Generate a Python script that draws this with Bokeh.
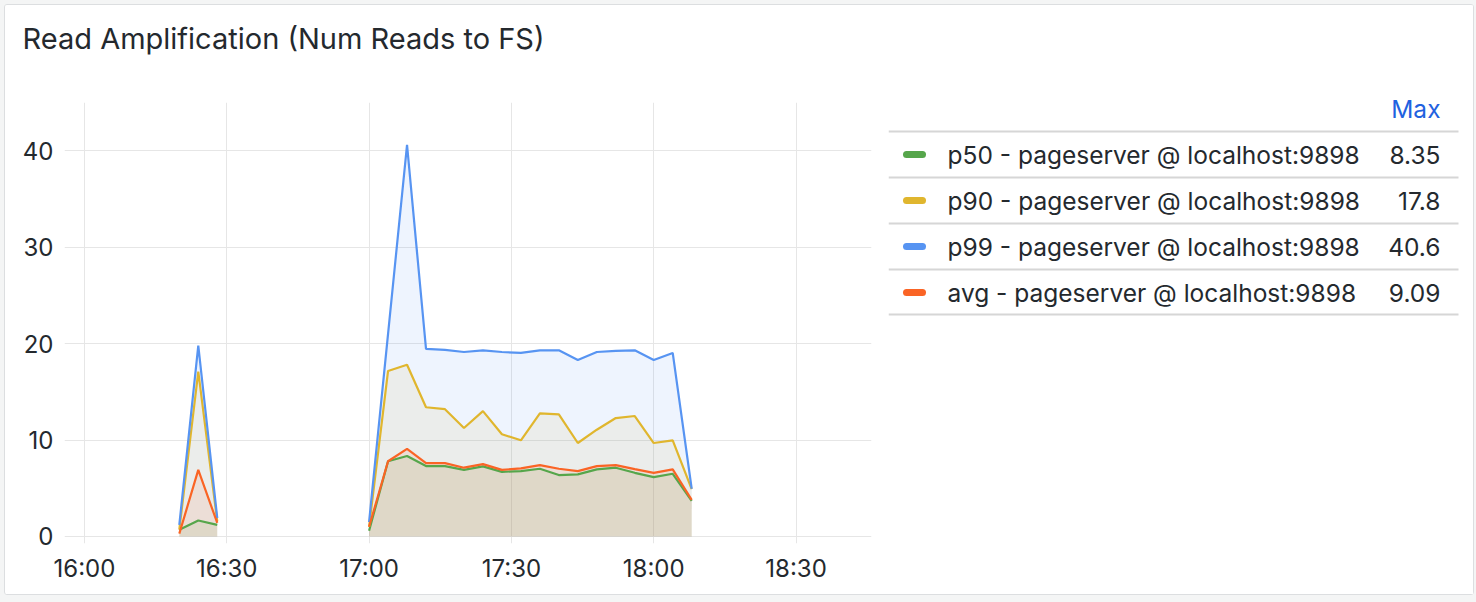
from datetime import datetime, timedelta

from bokeh.plotting import figure
from bokeh.models import Range1d, FixedTicker, DatetimeTickFormatter
from bokeh.layouts import column, row
from bokeh.embed import file_html
from bokeh.resources import INLINE
from bokeh.core.properties import value

try:
    from bokeh.models import GlobalInlineStyleSheet
except Exception:  # pragma: no cover
    GlobalInlineStyleSheet = None

# ---------------- data ----------------
title_text = "Read Amplification (Num Reads to FS)"
series_names = [
    "p50 - pageserver @ localhost:9898",
    "p90 - pageserver @ localhost:9898",
    "p99 - pageserver @ localhost:9898",
    "avg - pageserver @ localhost:9898",
]
series_colors = ["#56A64B", "#E0B62E", "#5794F2", "#FA6425"]
legend_header = "Max"

start_time = datetime(2023, 1, 1, 16, 20)
step_minutes = 4
N = None
p50 = [0.7, 1.65, 1.2, N, N, N, N, N, N, N,
       0.6, 7.8, 8.35, 7.3, 7.3, 6.9, 7.27, 6.7, 6.78, 7.02, 6.37, 6.44, 6.95, 7.13, 6.6, 6.16, 6.5, 3.7]
p90 = [0.7, 17.1, 1.55, N, N, N, N, N, N, N,
       1.0, 17.16, 17.8, 13.4, 13.2, 11.25, 13.0, 10.6, 9.97, 12.77, 12.66, 9.69, 11.07, 12.28, 12.49, 9.69, 9.97, 4.9]
p99 = [1.2, 19.8, 1.9, N, N, N, N, N, N, N,
       1.5, 21.0, 40.6, 19.45, 19.34, 19.13, 19.3, 19.13, 19.03, 19.3, 19.3, 18.3, 19.13, 19.24, 19.3, 18.3, 19.03, 4.95]
avg = [0.3, 6.9, 1.4, N, N, N, N, N, N, N,
       1.0, 7.8, 9.09, 7.6, 7.6, 7.13, 7.5, 6.9, 7.06, 7.4, 7.02, 6.78, 7.3, 7.4, 6.99, 6.6, 6.95, 3.8]
series_values = [p50, p90, p99, avg]

x_tick_labels = ["16:00", "16:30", "17:00", "17:30", "18:00", "18:30"]
y_ticks = [0, 10, 20, 30, 40]

# ---------------- style / layout ----------------
FONT = value("Inter")
TEXT_COLOR = "#24292e"
GRID_COLOR = "#e6e6e6"
H_TITLE = 83
H_BODY = 506
W_MAIN = 883
W_LEG = 585
W_TOTAL = W_MAIN + W_LEG

times = [start_time + timedelta(minutes=step_minutes * i) for i in range(len(p50))]
day = start_time.date()


def hhmm(label):
    h, m = label.split(":")
    return datetime(day.year, day.month, day.day, int(h), int(m))


epoch = datetime(1970, 1, 1)


def ms(dt):
    return (dt - epoch).total_seconds() * 1000.0


def runs_of(vals):
    runs, cur = [], []
    for t, v in zip(times, vals):
        if v is None:
            if cur:
                runs.append(cur)
            cur = []
        else:
            cur.append((t, v))
    if cur:
        runs.append(cur)
    return runs


# ---------------- title ----------------
tfig = figure(width=W_TOTAL, height=H_TITLE, x_range=Range1d(0, W_TOTAL), y_range=Range1d(H_TITLE, 0),
              toolbar_location=None, output_backend="svg", min_border=0,
              x_axis_location=None, y_axis_location=None)
tfig.grid.visible = False
tfig.outline_line_color = None
tfig.background_fill_color = "white"
tfig.border_fill_color = "white"
tfig.text(x=[17], y=[33], text=[title_text], text_font=FONT, text_font_size="29px",
          text_align="left", text_baseline="middle", text_color=TEXT_COLOR)

# ---------------- main chart ----------------
x0 = hhmm("16:00") - timedelta(minutes=4.2)
x1 = hhmm("16:00") + timedelta(minutes=165.9)
p = figure(width=W_MAIN, height=H_BODY, x_axis_type="datetime",
           x_range=Range1d(x0, x1), y_range=Range1d(-0.73, 45.0),
           toolbar_location=None, output_backend="svg",
           min_border_left=59, min_border_right=17, min_border_top=14, min_border_bottom=51)
p.outline_line_color = None
p.background_fill_color = "white"
p.border_fill_color = "white"

for vals, col in zip(series_values, series_colors):
    for r in runs_of(vals):
        xs = [a for a, _ in r]
        ys = [b for _, b in r]
        p.varea(x=xs, y1=[0] * len(ys), y2=ys, fill_color=col, fill_alpha=0.1)

for vals, col in zip(series_values, series_colors):
    for r in runs_of(vals):
        xs = [a for a, _ in r]
        ys = [b for _, b in r]
        p.line(x=xs, y=ys, line_color=col, line_width=2.2)

p.xaxis.ticker = FixedTicker(ticks=[ms(hhmm(l)) for l in x_tick_labels])
p.xaxis.formatter = DatetimeTickFormatter(minutes="%H:%M", hourmin="%H:%M", hours="%H:%M",
                                          days="%H:%M", minsec="%H:%M", seconds="%H:%M")
p.yaxis.ticker = FixedTicker(ticks=y_ticks)
for ax in (p.xaxis, p.yaxis):
    ax.axis_line_color = None
    ax.major_tick_line_color = None
    ax.minor_tick_line_color = None
    ax.major_tick_out = 0
    ax.major_tick_in = 0
    ax.minor_tick_out = 0
    ax.minor_tick_in = 0
    ax.major_label_text_font = "Inter"
    ax.major_label_text_font_size = "24px"
    ax.major_label_text_color = TEXT_COLOR
p.xaxis.major_label_standoff = 10
p.yaxis.major_label_standoff = 11
p.xgrid.grid_line_color = GRID_COLOR
p.ygrid.grid_line_color = GRID_COLOR

# ---------------- legend table ----------------
lfig = figure(width=W_LEG, height=H_BODY, x_range=Range1d(0, W_LEG), y_range=Range1d(H_BODY, 0),
              toolbar_location=None, output_backend="svg", min_border=0,
              x_axis_location=None, y_axis_location=None)
lfig.grid.visible = False
lfig.outline_line_color = None
lfig.background_fill_color = "white"
lfig.border_fill_color = "white"

row_y = [66, 112, 158, 204]
sep_y = [43, 89, 135, 181, 226]
lfig.segment(x0=[0] * len(sep_y), y0=sep_y, x1=[570] * len(sep_y), y1=sep_y,
             line_color="#d6d6d6", line_width=2)
lfig.text(x=[552], y=[20], text=[legend_header], text_font=FONT, text_font_size="24.5px",
          text_align="right", text_baseline="middle", text_color="#1F62E0")
lfig.segment(x0=[18] * 4, y0=row_y, x1=[34] * 4, y1=row_y, line_color=series_colors,
             line_width=7, line_cap="round")
lfig.text(x=[59] * 4, y=row_y, text=series_names, text_font=FONT, text_font_size="24.5px",
          text_align="left", text_baseline="middle", text_color=TEXT_COLOR)
max_texts = ["{:.3g}".format(max(v for v in vals if v is not None)) for vals in series_values]
lfig.text(x=[552] * 4, y=row_y, text=max_texts, text_font=FONT, text_font_size="24.5px",
          text_align="right", text_baseline="middle", text_color=TEXT_COLOR)

root = column(tfig, row(p, column(lfig)), margin=(4, 0, 0, 4),
              styles={"border": "1px solid #dcdee0", "border-radius": "3px",
                      "background-color": "white"})
if GlobalInlineStyleSheet is not None:
    root.stylesheets = [GlobalInlineStyleSheet(css="body { background-color: #f4f5f5; }")]

open("out.html", "w").write(file_html(root, INLINE))
